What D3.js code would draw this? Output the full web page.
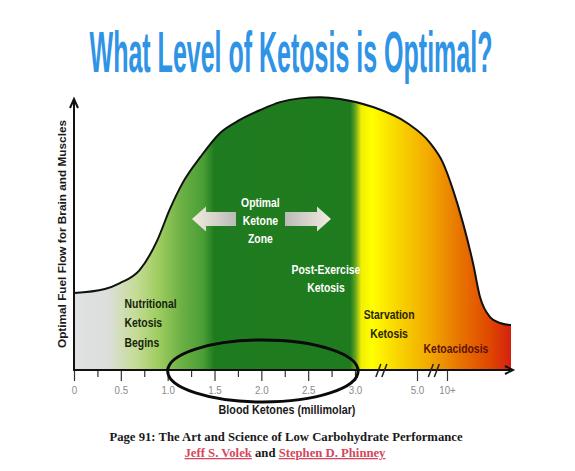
<!DOCTYPE html>
<html>
<head>
<meta charset="utf-8">
<script src="https://cdn.jsdelivr.net/npm/d3@7"></script>
<style>
  html, body { margin: 0; padding: 0; background: #ffffff; }
  svg { display: block; }
</style>
</head>
<body>
<svg id="chart" width="575" height="471"></svg>
<script>
// ---------- data ----------
const titleText = "What Level of Ketosis is Optimal?";
const yAxisTitle = "Optimal Fuel Flow for Brain and Muscles";
const xAxisTitle = "Blood Ketones (millimolar)";

// curve: blood ketone level (mM) vs relative fuel flow
const ketones  = [0,    0.33, 0.49, 0.70, 0.89, 1.02, 1.16, 1.35, 1.56, 1.77, 1.99, 2.2,  2.41, 2.63, 2.84,  3.58, 4.68, 7.17, 9.33, 10.47, 11.25, 12.03, 12.58, 13.36, 14.14, 14.92, 15];
const fuelFlow = [28.5, 30,   32.2, 37,   48.1, 59.3, 69.3, 78.9, 87.8, 92.6, 96.3, 99.2, 100.6, 101, 100.4, 97.4, 91.5, 84.1, 76.7, 66.7,  54.4,  39.6,  27,    19.6,  17.4,  16.7,  16.7];

const majorTicks = [0, 0.5, 1, 1.5, 2, 2.5, 3, 5, 10];
const tickLabels = ["0", "0.5", "1.0", "1.5", "2.0", "2.5", "3.0", "5.0", "10+"];
const minorTicks = [0.25, 0.75, 1.25, 1.75, 2.25, 2.75];
const axisBreaks = [3.85, 7.8];

// zone colour stops along the ketone axis
const zoneStops  = [0, 0.36, 0.65, 0.9, 1.15, 1.38, 1.5, 2.95, 3.02, 3.2, 3.55, 4.4, 7.17, 11, 13.3, 15];
const zoneColors = ["#e0e1e4", "#dcdfdb", "#c6dc98", "#9fcd60", "#6cb044", "#4a9e36", "#1f7b1f",
                    "#1f7c1e", "#6aa820", "#f2f000", "#ffff00", "#f8d400", "#f2a800", "#e87400", "#e04800", "#d42010"];

// optimal zone (ellipse) range in mM
const optimalRange = [1.0, 3.1];

// zone labels
const zoneLabelLines = [
  ["Nutritional", "Ketosis", "Begins"],
  ["Optimal", "Ketone", "Zone"],
  ["Post-Exercise", "Ketosis"],
  ["Starvation", "Ketosis"],
  ["Ketoacidosis"]
];
const zoneLabelX = [0.54, 1.99, 2.69, 4.1, 10.7];
const zoneLabelY = [24.8, 62.2, 37.4, 20.4, 8.0];

const footerLine1 = "Page 91: The Art and Science of Low Carbohydrate Performance";
const footerAuthors = ["Jeff S. Volek", " and ", "Stephen D. Phinney"];

// ---------- chart ----------
const svg = d3.select("#chart");
const x0 = 74, yBase = 370;
const SANS = "'Liberation Sans', Arial, sans-serif";
const NARROW = 0.8;

const x = d3.scaleLinear().domain([0, 3, 5, 10, 15]).range([74, 355, 417, 447, 511]);
const y = d3.scaleLinear().domain([0, 100]).range([yBase, 100]);

const defs = svg.append("defs");
const grad = defs.append("linearGradient")
  .attr("id", "zoneGrad").attr("gradientUnits", "userSpaceOnUse")
  .attr("x1", x(0)).attr("x2", x(15)).attr("y1", 0).attr("y2", 0);
zoneStops.forEach((s, i) => {
  grad.append("stop")
    .attr("offset", (x(s) - x(0)) / (x(15) - x(0)))
    .attr("stop-color", zoneColors[i]);
});

const arrowGradL = defs.append("linearGradient").attr("id", "arrowL").attr("x1", 0).attr("x2", 1);
arrowGradL.append("stop").attr("offset", 0).attr("stop-color", "#f3ece0");
arrowGradL.append("stop").attr("offset", 1).attr("stop-color", "#b9bbb8");
const arrowGradR = defs.append("linearGradient").attr("id", "arrowR").attr("x1", 0).attr("x2", 1);
arrowGradR.append("stop").attr("offset", 0).attr("stop-color", "#b9bbb8");
arrowGradR.append("stop").attr("offset", 1).attr("stop-color", "#f3ece0");

// helper: condensed text drawn at an anchor point
function condensedText(parent, ax, ay, sx) {
  return parent.append("text")
    .attr("x", 0).attr("y", 0)
    .attr("transform", `translate(${ax},${ay}) scale(${sx},1)`);
}

// title (condensed to fit)
const title = condensedText(svg, 291, 72, 1)
  .attr("text-anchor", "middle")
  .attr("font-family", SANS)
  .attr("font-weight", "bold")
  .attr("font-size", 57)
  .attr("fill", "#2f93e6")
  .text(titleText);
const tw = title.node().getComputedTextLength();
title.attr("transform", `translate(291,72) scale(${403 / tw},1)`);

const pts = ketones.map((k, i) => [k, fuelFlow[i]]);

// area
svg.append("path")
  .datum(pts)
  .attr("d", d3.area().x(d => x(d[0])).y0(y(0)).y1(d => y(d[1])).curve(d3.curveMonotoneX))
  .attr("fill", "url(#zoneGrad)");

// outline
svg.append("path")
  .datum(pts)
  .attr("d", d3.line().x(d => x(d[0])).y(d => y(d[1])).curve(d3.curveMonotoneX))
  .attr("fill", "none")
  .attr("stroke", "#111")
  .attr("stroke-width", 2);

// arrows around "Optimal Ketone Zone"
const ay = 219;
function arrowPath(tipX, baseX, endX) {
  return `M${tipX},${ay} L${baseX},${ay - 12.5} L${baseX},${ay - 7} L${endX},${ay - 7} L${endX},${ay + 7} L${baseX},${ay + 7} L${baseX},${ay + 12.5} Z`;
}
svg.append("path").attr("d", arrowPath(192, 206, 236)).attr("fill", "url(#arrowL)");
svg.append("path").attr("d", arrowPath(331, 317, 285)).attr("fill", "url(#arrowR)");

// zone labels
const labelStyle = [
  { fill: "#16240c", anchor: "start" },
  { fill: "#ffffff", anchor: "middle" },
  { fill: "#ffffff", anchor: "middle" },
  { fill: "#2a2408", anchor: "middle" },
  { fill: "#5a1208", anchor: "middle" }
];
const lineGap = [19.5, 18, 18.5, 18.5, 18];
zoneLabelLines.forEach((lines, i) => {
  const t = condensedText(svg, x(zoneLabelX[i]), y(zoneLabelY[i]) + 4.5, NARROW)
    .attr("font-family", SANS)
    .attr("font-weight", "bold")
    .attr("font-size", 13)
    .attr("fill", labelStyle[i].fill)
    .attr("text-anchor", labelStyle[i].anchor);
  lines.forEach((ln, j) => {
    t.append("tspan")
      .attr("x", 0)
      .attr("y", j * lineGap[i])
      .text(ln);
  });
});

// x axis ticks
const gx = svg.append("g").attr("transform", `translate(0,${yBase})`);
gx.call(d3.axisBottom(x).tickValues(majorTicks).tickSize(11)
  .tickFormat((d, i) => tickLabels[i]));
gx.select(".domain").remove();
gx.selectAll(".tick line").attr("stroke", "#333").attr("stroke-width", 1.2);
gx.selectAll(".tick text")
  .attr("font-family", SANS)
  .attr("font-size", 11.5)
  .attr("fill", "#8a8a8a")
  .attr("y", 0)
  .attr("dy", 0)
  .attr("transform", `translate(0,24) scale(0.85,1)`);

const gm = svg.append("g").attr("transform", `translate(0,${yBase})`);
gm.call(d3.axisBottom(x).tickValues(minorTicks).tickSize(7).tickFormat(""));
gm.select(".domain").remove();
gm.selectAll(".tick line").attr("stroke", "#333").attr("stroke-width", 1.2);

// axis lines with arrows
svg.append("line").attr("x1", x0).attr("x2", x0).attr("y1", yBase + 1).attr("y2", 100)
  .attr("stroke", "#111").attr("stroke-width", 2);
svg.append("path").attr("d", `M${x0 - 4},${108} L${x0},${99} L${x0 + 4},${108}`)
  .attr("fill", "none").attr("stroke", "#111").attr("stroke-width", 2);
svg.append("line").attr("x1", x0).attr("x2", 513).attr("y1", yBase).attr("y2", yBase)
  .attr("stroke", "#111").attr("stroke-width", 2);
svg.append("path").attr("d", `M505,${yBase - 4} L513,${yBase} L505,${yBase + 4}`)
  .attr("fill", "none").attr("stroke", "#111").attr("stroke-width", 2);

// axis breaks
axisBreaks.forEach(b => {
  [-3, 3].forEach(off => {
    svg.append("line")
      .attr("x1", x(b) + off - 2.5).attr("y1", yBase + 7)
      .attr("x2", x(b) + off + 2.5).attr("y2", yBase - 6)
      .attr("stroke", "#222").attr("stroke-width", 1.5);
  });
});

// optimal ellipse
const ex1 = x(optimalRange[0]), ex2 = x(optimalRange[1]);
svg.append("ellipse")
  .attr("cx", (ex1 + ex2) / 2).attr("cy", yBase + 1)
  .attr("rx", (ex2 - ex1) / 2).attr("ry", 31)
  .attr("fill", "none").attr("stroke", "#0a0a0a").attr("stroke-width", 3);

// axis titles
svg.append("text")
  .attr("transform", `translate(66,${234}) rotate(-90)`)
  .attr("text-anchor", "middle")
  .attr("font-family", SANS)
  .attr("font-weight", "bold")
  .attr("font-size", 11.8)
  .attr("fill", "#1a1a1a")
  .text(yAxisTitle);

const xt = condensedText(svg, 287, 414, 1)
  .attr("text-anchor", "middle")
  .attr("font-family", SANS)
  .attr("font-weight", "bold")
  .attr("font-size", 12.5)
  .attr("fill", "#1a1a1a")
  .text(xAxisTitle);
xt.attr("transform", `translate(287,414) scale(${137 / xt.node().getComputedTextLength()},1)`);

// footer
svg.append("text")
  .attr("x", 286).attr("y", 441)
  .attr("text-anchor", "middle")
  .attr("font-family", "'Liberation Serif', 'Times New Roman', serif")
  .attr("font-weight", "bold")
  .attr("font-size", 12.7)
  .attr("fill", "#1a1a1a")
  .text(footerLine1);

const f2 = svg.append("text")
  .attr("x", 285).attr("y", 457)
  .attr("text-anchor", "middle")
  .attr("font-family", "'Liberation Serif', 'Times New Roman', serif")
  .attr("font-weight", "bold")
  .attr("font-size", 12.7)
  .attr("xml:space", "preserve");
footerAuthors.forEach((s, i) => {
  f2.append("tspan")
    .attr("fill", i === 1 ? "#1a1a1a" : "#d4475c")
    .attr("text-decoration", i === 1 ? "none" : "underline")
    .text(s);
});
</script>
</body>
</html>
